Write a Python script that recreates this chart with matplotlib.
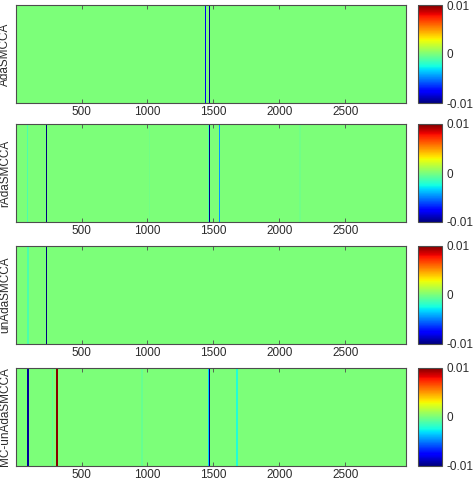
import numpy as np
import matplotlib
matplotlib.use("Agg")
import matplotlib.pyplot as plt

plt.rcParams['font.family'] = ['Liberation Sans', 'DejaVu Sans']

n_features = 2960
methods = ["AdaSMCCA", "rAdaSMCCA", "unAdaSMCCA", "MC-unAdaSMCCA"]

# nonzero weights (feature index, weight)
ada_idx = [1433, 1467]
ada_val = [-0.0080, -0.0095]

radas_idx = [88, 233, 1458, 1464, 1543, 1010, 2150]
radas_val = [-0.0012, -0.0100, -0.0012, -0.0100, -0.0045, -0.0003, -0.0003]

unadas_idx = [91, 233]
unadas_val = [-0.0012, -0.0100]

mc_idx = [91, 275, 311, 955, 1458, 1464, 1672]
mc_val = [-0.0095, -0.0006, 0.0098, -0.0005, -0.0035, -0.0100, -0.0022]

all_idx = [ada_idx, radas_idx, unadas_idx, mc_idx]
all_val = [ada_val, radas_val, unadas_val, mc_val]

cb_ticks = [-0.01, 0, 0.01]
cb_labels = ['-0.01', '0', '0.01']
x_ticks = [500, 1000, 1500, 2000, 2500]

W, H = 474, 482
fig = plt.figure(figsize=(W / 100, H / 100), dpi=100)

tops = [5, 124, 245.7, 367.7]
ax_h = 98
edge = '#4d4d4d'
txt = '#2b2b2b'

for k in range(4):
    w = np.zeros(n_features)
    for i, v in zip(all_idx[k], all_val[k]):
        # each weight spans ~1.3 screen pixels so it survives downsampling
        w[i - 5:i + 5] = v
    bottom = 1 - (tops[k] + ax_h) / H
    ax = fig.add_axes([15.7 / W, bottom, (406 - 15.7) / W, ax_h / H])
    im = ax.imshow(w[np.newaxis, :], cmap='jet', vmin=-0.01, vmax=0.01,
                   aspect='auto', interpolation='nearest',
                   extent=(0.5, n_features + 0.5, 1.5, 0.5))
    ax.set_yticks([])
    ax.set_xticks(x_ticks)
    ax.tick_params(axis='x', direction='in', length=3, width=0.6, top=True,
                   labelsize=8.5, colors=edge, labelcolor=txt, pad=2.5)
    for s in ax.spines.values():
        s.set_color(edge)
        s.set_linewidth(0.8)
    ax.set_ylabel(methods[k], fontsize=8.5, color=txt)
    ax.yaxis.set_label_coords(-0.012, 0.5)

    cax = fig.add_axes([417.7 / W, bottom, 24.6 / W, ax_h / H])
    cb = fig.colorbar(im, cax=cax, ticks=cb_ticks)
    cb.ax.set_yticklabels(cb_labels)
    cb.ax.tick_params(direction='in', length=0, labelsize=8.5,
                      labelcolor=txt, pad=3)
    cb.outline.set_edgecolor(edge)
    cb.outline.set_linewidth(0.8)

fig.savefig('out.png', dpi=100)
